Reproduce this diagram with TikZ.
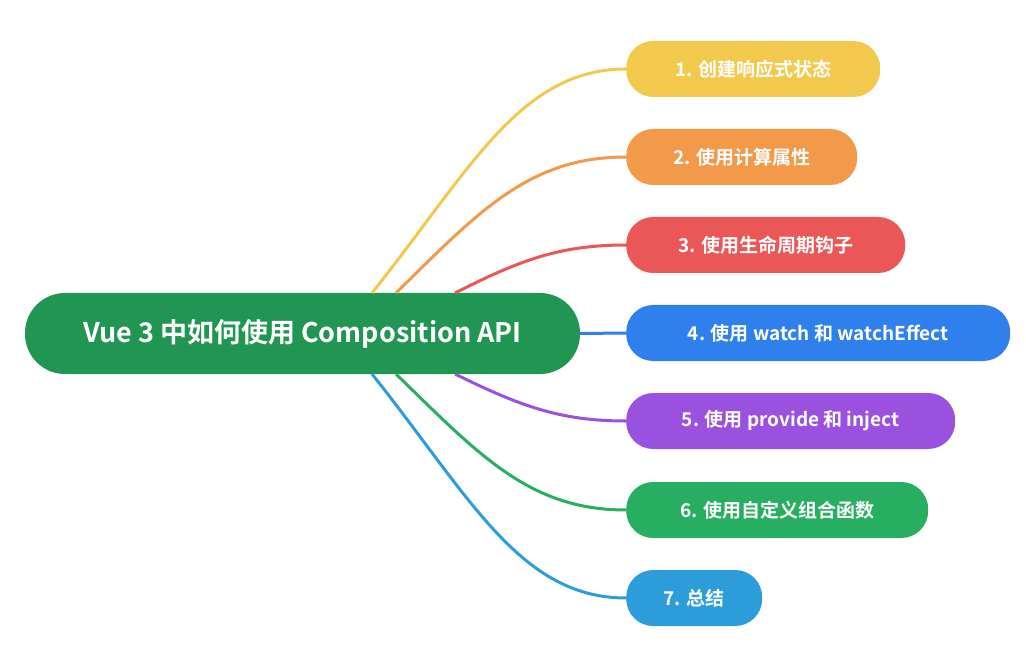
\documentclass[tikz,border=0pt]{standalone}
\usepackage{fontspec}
\setmainfont{Noto Sans CJK SC}[BoldFont={Noto Sans CJK SC Bold}]
\definecolor{cA}{HTML}{F2C94C}
\definecolor{cB}{HTML}{F2994A}
\definecolor{cC}{HTML}{EB5757}
\definecolor{cD}{HTML}{2F80ED}
\definecolor{cE}{HTML}{9B51E0}
\definecolor{cF}{HTML}{27AE60}
\definecolor{cG}{HTML}{2D9CDB}
\definecolor{root}{HTML}{219653}
\begin{document}
\begin{tikzpicture}[x=1pt,y=-1pt,
  kid/.style={rounded corners=27pt,minimum height=56pt,anchor=west,text=white,font=\fontsize{19}{22}\selectfont\bfseries,inner xsep=14pt},
  link/.style={line width=3pt}]
\useasboundingbox (0,0) rectangle (1026,655);
\node[fill=root,rounded corners=40pt,minimum height=81pt,minimum width=555pt,text=white,font=\fontsize{27}{32}\selectfont\bfseries] (r) at (302.5,333.5) {Vue 3 中如何使用 Composition API};
\node[kid,fill=cA,minimum width=254pt] (a) at (626,69) {1. 创建响应式状态};
\node[kid,fill=cB,minimum width=231pt] (b) at (626,157) {2. 使用计算属性};
\node[kid,fill=cC,minimum width=279pt] (c) at (626,245) {3. 使用生命周期钩子};
\node[kid,fill=cD,minimum width=384pt] (d) at (626,333) {4. 使用 watch 和 watchEffect};
\node[kid,fill=cE,minimum width=329pt] (e) at (626,421) {5. 使用 provide 和 inject};
\node[kid,fill=cF,minimum width=302pt] (f) at (626,510) {6. 使用自定义组合函数};
\node[kid,fill=cG,minimum width=136pt] (g) at (626,598) {7. 总结};
\coordinate (pa) at (372,293); \coordinate (pb) at (396,293); \coordinate (pc) at (455,293);
\coordinate (pe) at (455,374); \coordinate (pf) at (396,374); \coordinate (pg) at (372,374);
\begin{scope}[on background layer/.try]
\draw[link,cA] (pa) .. controls (470,170) and (520,69) .. (a.west);
\draw[link,cB] (pb) .. controls (480,210) and (530,157) .. (b.west);
\draw[link,cC] (pc) .. controls (520,260) and (560,245) .. (c.west);
\draw[link,cD] (r.east) -- (d.west);
\draw[link,cE] (pe) .. controls (520,406) and (560,421) .. (e.west);
\draw[link,cF] (pf) .. controls (480,456) and (530,510) .. (f.west);
\draw[link,cG] (pg) .. controls (470,497) and (520,598) .. (g.west);
\end{scope}
\end{tikzpicture}
\end{document}
